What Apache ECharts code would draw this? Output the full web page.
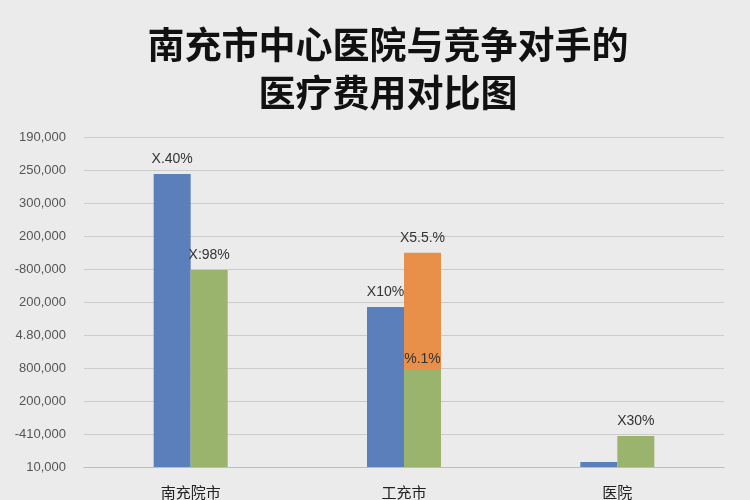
<!DOCTYPE html>
<html>
<head>
<meta charset="utf-8">
<script src="https://cdn.jsdelivr.net/npm/echarts@6/dist/echarts.min.js"></script>
<style>
  html, body { margin: 0; padding: 0; background: #ebebeb; }
  #main { width: 750px; height: 500px; }
</style>
</head>
<body>
<div id="main"></div>
<script>
// 类别
var categories = ['南充院市', '工充市', '医院'];
// y轴刻度文字（自下而上）
var yTickLabels = ['10,000', '-410,000', '200,000', '800,000', '4.80,000', '200,000',
                   '-800,000', '200,000', '300,000', '250,000', '190,000'];
// 数据（按网格格数）
var blueValues = [8.88, 4.85, 0.15];
var greenValues = [5.97, 2.97, 0.94];
var orangeValues = [null, 3.52, null];
// 标签文字
var blueLabels = ['X.40%', 'X10%', ''];
var greenLabels = ['X:98%', '%.1%', 'X30%'];
var orangeLabels = ['', 'X5.5.%', ''];

var myChart = echarts.init(document.getElementById('main'));

function makeData(values, labels, dist) {
    return values.map(function (v, i) {
        return {
            value: v,
            label: { show: !!labels[i], formatter: labels[i], distance: dist[i] }
        };
    });
}

var labelStyle = {
    position: 'top',
    color: '#333',
    fontSize: 14,
    fontFamily: 'Liberation Sans'
};

var options = {
    backgroundColor: '#ebebeb',
    title: {
        text: '南充市中心医院与竞争对手的\n医疗费用对比图',
        left: 383,
        textAlign: 'center',
        top: 16,
        textStyle: {
            fontFamily: 'Noto Sans CJK SC',
            fontWeight: 'bold',
            fontSize: 37,
            lineHeight: 48,
            color: '#111'
        }
    },
    grid: { left: 84, right: 26, top: 137, bottom: 33 },
    xAxis: {
        type: 'category',
        data: categories,
        axisTick: { show: false },
        axisLine: { lineStyle: { color: '#bdbdbd', width: 1 } },
        axisLabel: {
            margin: 18,
            fontSize: 15,
            color: '#222',
            fontFamily: 'Noto Sans CJK SC'
        }
    },
    yAxis: {
        type: 'value',
        min: 0,
        max: 10,
        interval: 1,
        axisLine: { show: false },
        axisTick: { show: false },
        splitLine: { lineStyle: { color: '#cbcbcb', width: 1 } },
        axisLabel: {
            margin: 18,
            fontSize: 13,
            color: '#555',
            fontFamily: 'Liberation Sans',
            formatter: function (val) {
                return yTickLabels[Math.round(val)];
            }
        }
    },
    series: [
        {
            name: 'A',
            type: 'bar',
            barWidth: 37,
            barGap: '0%',
            itemStyle: { color: '#5b7fba' },
            label: labelStyle,
            data: makeData(blueValues, blueLabels, [8, 8, 8])
        },
        {
            name: 'B',
            type: 'bar',
            stack: 's',
            barWidth: 37,
            barGap: '0%',
            itemStyle: { color: '#9bb46d' },
            label: labelStyle,
            data: makeData(greenValues, greenLabels, [8, 3, 8])
        },
        {
            name: 'C',
            type: 'bar',
            stack: 's',
            barWidth: 37,
            barGap: '0%',
            itemStyle: { color: '#e88f4a' },
            label: labelStyle,
            data: makeData(orangeValues, orangeLabels, [8, 8, 8])
        }
    ]
};
myChart.setOption(options);
</script>
</body>
</html>
